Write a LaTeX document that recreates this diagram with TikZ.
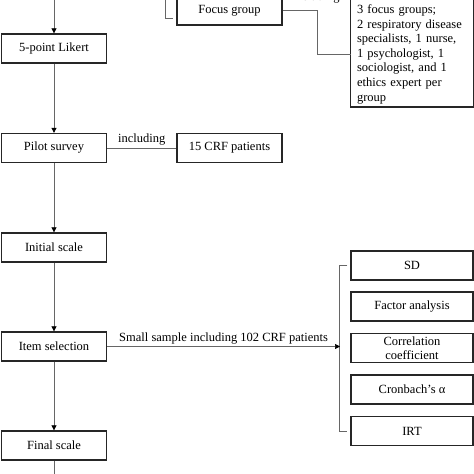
\documentclass[tikz,border=0pt]{standalone}
\usepackage{fontspec}
\setmainfont{Liberation Serif}
\usetikzlibrary{arrows.meta}

\begin{document}
\begin{tikzpicture}[x=1pt,y=-1pt]
	\tikzstyle{stepbox}=[draw=black!85,line width=1.3pt,minimum width=105pt,minimum height=29pt,inner sep=2pt,align=center,font=\fontsize{12.5}{14}\selectfont]
	\tikzstyle{toolbox}=[stepbox,minimum width=122pt]
	\tikzstyle{link}=[draw=black!60,line width=0.7pt]
	\tikzstyle{flow}=[link,arrows={-Triangle[length=5pt,width=5pt,color=black]}]
	\tikzstyle{tag}=[font=\fontsize{12.5}{14}\selectfont,inner sep=2pt]

	\useasboundingbox (0,0) rectangle (474,474);

	% main column
	\node[stepbox] (likert) at (54,48.5) {5-point Likert};
	\node[stepbox] (pilot) at (54,148) {Pilot survey};
	\node[stepbox] (initial) at (54,247.5) {Initial scale};
	\node[stepbox] (itemsel) at (54,346.5) {Item selection};
	\node[stepbox] (final) at (54,445.5) {Final scale};

	\coordinate (entry) at (54,-6);
	\coordinate (exit) at (54,480);
	\draw[flow] (entry) -- (likert);
	\draw[flow] (likert) -- (pilot);
	\draw[flow] (pilot) -- (initial);
	\draw[flow] (initial) -- (itemsel);
	\draw[flow] (itemsel) -- (final);
	\draw[link] (final) -- (exit);

	% focus group
	\node[stepbox] (focus) at (229.5,10.5) {Focus group};
	\coordinate (fgtop) at (165,-6);
	\coordinate (fgfoot) at (173,18);
	\draw[link] (fgtop) |- (fgfoot);

	\node[tag,anchor=south,text width=110pt,align=left,inner xsep=6pt,inner ysep=3pt,font=\fontsize{12.5}{14.6}\selectfont] (members) at (412,107)
		{3 focus groups;\\2 respiratory disease\\specialists, 1 nurse,\\1 psychologist, 1\\sociologist, and 1\\ethics expert per\\group};
	\draw[draw=black!85,line width=1.3pt] (members.south west) rectangle ([yshift=14pt]members.north east);
	\draw[link] (focus.east) -- ++(35,0) |- (members.west);
	\node[tag] (incl) at (316,-2) {including};

	% pilot sample
	\node[stepbox] (crf15) at (229.5,148) {15 CRF patients};
	\draw[link] (pilot) -- node[tag,above] {including} (crf15);

	% item selection methods
	\node[toolbox] (sd) at (412,265.5) {SD};
	\node[toolbox] (factor) at (412,306.5) {Factor analysis};
	\node[toolbox] (corr) at (412,348) {Correlation\\coefficient};
	\node[toolbox] (cronbach) at (412,389.5) {Cronbach’s α};
	\node[toolbox] (irt) at (412,431) {IRT};

	\draw[link] ([xshift=-3pt]sd.west) -- ++(-8,0) |- ([xshift=-3pt]irt.west);
	\coordinate (split) at (340,346.5);
	\draw[flow] (itemsel) -- node[tag,above] {Small sample including 102 CRF patients} (split);
\end{tikzpicture}
\end{document}
